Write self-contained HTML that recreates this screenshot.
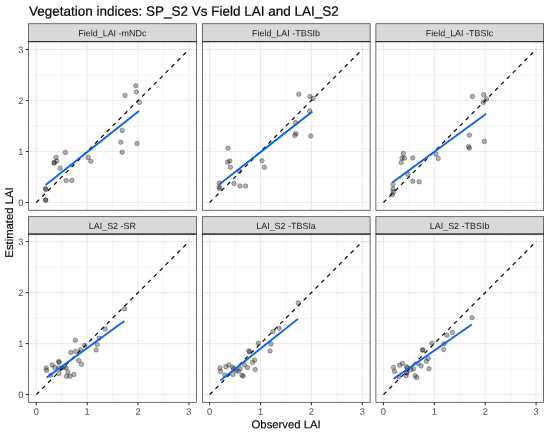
<!DOCTYPE html><html><head><meta charset="utf-8"><title>Vegetation indices</title><style>html,body{margin:0;padding:0;background:#fff}text{font-family:"Liberation Sans",Arial,sans-serif}</style></head><body><svg width="550" height="433" viewBox="0 0 550 433" style="display:block">
<rect width="550" height="433" fill="#fff"/>
<text transform="translate(28.9 15.7) rotate(0.03)" font-size="13.5" fill="#000" stroke="#000" stroke-width="0.2">Vegetation indices: SP_S2 Vs Field LAI and LAI_S2</text>
<g><rect x="28.6" y="41.6" width="167.90" height="168.65" fill="#fff"/><line x1="61.74" x2="61.74" y1="41.6" y2="210.25" stroke="#ebebeb" stroke-width="0.55"/><line y1="177.00" y2="177.00" x1="28.6" x2="196.5" stroke="#ebebeb" stroke-width="0.55"/><line x1="112.62" x2="112.62" y1="41.6" y2="210.25" stroke="#ebebeb" stroke-width="0.55"/><line y1="126.00" y2="126.00" x1="28.6" x2="196.5" stroke="#ebebeb" stroke-width="0.55"/><line x1="163.50" x2="163.50" y1="41.6" y2="210.25" stroke="#ebebeb" stroke-width="0.55"/><line y1="75.00" y2="75.00" x1="28.6" x2="196.5" stroke="#ebebeb" stroke-width="0.55"/><line x1="36.30" x2="36.30" y1="41.6" y2="210.25" stroke="#ebebeb" stroke-width="1.1"/><line y1="202.50" y2="202.50" x1="28.6" x2="196.5" stroke="#ebebeb" stroke-width="1.1"/><line x1="87.18" x2="87.18" y1="41.6" y2="210.25" stroke="#ebebeb" stroke-width="1.1"/><line y1="151.50" y2="151.50" x1="28.6" x2="196.5" stroke="#ebebeb" stroke-width="1.1"/><line x1="138.06" x2="138.06" y1="41.6" y2="210.25" stroke="#ebebeb" stroke-width="1.1"/><line y1="100.50" y2="100.50" x1="28.6" x2="196.5" stroke="#ebebeb" stroke-width="1.1"/><line x1="188.94" x2="188.94" y1="41.6" y2="210.25" stroke="#ebebeb" stroke-width="1.1"/><line y1="49.50" y2="49.50" x1="28.6" x2="196.5" stroke="#ebebeb" stroke-width="1.1"/><circle cx="45.6" cy="200.0" r="2.25" fill="#000" fill-opacity="0.3" stroke="#000" stroke-opacity="0.3" stroke-width="1"/><circle cx="45.7" cy="200.1" r="2.25" fill="#000" fill-opacity="0.3" stroke="#000" stroke-opacity="0.3" stroke-width="1"/><circle cx="45.4" cy="188.6" r="2.25" fill="#000" fill-opacity="0.3" stroke="#000" stroke-opacity="0.3" stroke-width="1"/><circle cx="45.9" cy="189.6" r="2.25" fill="#000" fill-opacity="0.3" stroke="#000" stroke-opacity="0.3" stroke-width="1"/><circle cx="66.2" cy="180.6" r="2.25" fill="#000" fill-opacity="0.3" stroke="#000" stroke-opacity="0.3" stroke-width="1"/><circle cx="71.8" cy="180.4" r="2.25" fill="#000" fill-opacity="0.3" stroke="#000" stroke-opacity="0.3" stroke-width="1"/><circle cx="60.2" cy="168.2" r="2.25" fill="#000" fill-opacity="0.3" stroke="#000" stroke-opacity="0.3" stroke-width="1"/><circle cx="54.0" cy="163.0" r="2.25" fill="#000" fill-opacity="0.3" stroke="#000" stroke-opacity="0.3" stroke-width="1"/><circle cx="54.4" cy="162.6" r="2.25" fill="#000" fill-opacity="0.3" stroke="#000" stroke-opacity="0.3" stroke-width="1"/><circle cx="56.8" cy="161.0" r="2.25" fill="#000" fill-opacity="0.3" stroke="#000" stroke-opacity="0.3" stroke-width="1"/><circle cx="56.0" cy="157.4" r="2.25" fill="#000" fill-opacity="0.3" stroke="#000" stroke-opacity="0.3" stroke-width="1"/><circle cx="65.4" cy="152.4" r="2.25" fill="#000" fill-opacity="0.3" stroke="#000" stroke-opacity="0.3" stroke-width="1"/><circle cx="88.2" cy="157.4" r="2.25" fill="#000" fill-opacity="0.3" stroke="#000" stroke-opacity="0.3" stroke-width="1"/><circle cx="90.8" cy="161.2" r="2.25" fill="#000" fill-opacity="0.3" stroke="#000" stroke-opacity="0.3" stroke-width="1"/><circle cx="135.8" cy="85.8" r="2.25" fill="#000" fill-opacity="0.3" stroke="#000" stroke-opacity="0.3" stroke-width="1"/><circle cx="136.4" cy="92.0" r="2.25" fill="#000" fill-opacity="0.3" stroke="#000" stroke-opacity="0.3" stroke-width="1"/><circle cx="125.0" cy="95.4" r="2.25" fill="#000" fill-opacity="0.3" stroke="#000" stroke-opacity="0.3" stroke-width="1"/><circle cx="139.4" cy="102.4" r="2.25" fill="#000" fill-opacity="0.3" stroke="#000" stroke-opacity="0.3" stroke-width="1"/><circle cx="122.2" cy="130.4" r="2.25" fill="#000" fill-opacity="0.3" stroke="#000" stroke-opacity="0.3" stroke-width="1"/><circle cx="120.8" cy="142.2" r="2.25" fill="#000" fill-opacity="0.3" stroke="#000" stroke-opacity="0.3" stroke-width="1"/><circle cx="137.0" cy="143.6" r="2.25" fill="#000" fill-opacity="0.3" stroke="#000" stroke-opacity="0.3" stroke-width="1"/><circle cx="122.2" cy="152.2" r="2.25" fill="#000" fill-opacity="0.3" stroke="#000" stroke-opacity="0.3" stroke-width="1"/><line x1="36.30" y1="202.50" x2="189.24" y2="49.20" stroke="#000" stroke-width="1.2" stroke-dasharray="4.05 4.27"/><line x1="45.6" y1="184.9" x2="139" y2="111" stroke="#0a60f5" stroke-width="1.85"/><rect x="28.6" y="41.6" width="167.90" height="168.65" fill="none" stroke="#333" stroke-width="0.7"/><rect x="28.6" y="23.75" width="167.90" height="17.85" fill="#d9d9d9" stroke="#333" stroke-width="0.7"/><line x1="28.25" x2="196.85" y1="41.70" y2="41.70" stroke="#333" stroke-width="1.2"/><text transform="translate(112.35 36.20) rotate(0.03)" text-anchor="middle" font-size="8.95" fill="#1a1a1a">Field_LAI -mNDc</text><line x1="25.70" x2="28.6" y1="202.50" y2="202.50" stroke="#333" stroke-width="1.1"/><text transform="translate(23.40 206.00) rotate(0.03)" text-anchor="end" font-size="9.3" fill="#4d4d4d">0</text><line x1="25.70" x2="28.6" y1="151.50" y2="151.50" stroke="#333" stroke-width="1.1"/><text transform="translate(23.40 155.00) rotate(0.03)" text-anchor="end" font-size="9.3" fill="#4d4d4d">1</text><line x1="25.70" x2="28.6" y1="100.50" y2="100.50" stroke="#333" stroke-width="1.1"/><text transform="translate(23.40 104.00) rotate(0.03)" text-anchor="end" font-size="9.3" fill="#4d4d4d">2</text><line x1="25.70" x2="28.6" y1="49.50" y2="49.50" stroke="#333" stroke-width="1.1"/><text transform="translate(23.40 53.00) rotate(0.03)" text-anchor="end" font-size="9.3" fill="#4d4d4d">3</text></g>
<g><rect x="202.35" y="41.6" width="167.75" height="168.65" fill="#fff"/><line x1="235.09" x2="235.09" y1="41.6" y2="210.25" stroke="#ebebeb" stroke-width="0.55"/><line y1="177.00" y2="177.00" x1="202.35" x2="370.1" stroke="#ebebeb" stroke-width="0.55"/><line x1="285.97" x2="285.97" y1="41.6" y2="210.25" stroke="#ebebeb" stroke-width="0.55"/><line y1="126.00" y2="126.00" x1="202.35" x2="370.1" stroke="#ebebeb" stroke-width="0.55"/><line x1="336.85" x2="336.85" y1="41.6" y2="210.25" stroke="#ebebeb" stroke-width="0.55"/><line y1="75.00" y2="75.00" x1="202.35" x2="370.1" stroke="#ebebeb" stroke-width="0.55"/><line x1="209.65" x2="209.65" y1="41.6" y2="210.25" stroke="#ebebeb" stroke-width="1.1"/><line y1="202.50" y2="202.50" x1="202.35" x2="370.1" stroke="#ebebeb" stroke-width="1.1"/><line x1="260.53" x2="260.53" y1="41.6" y2="210.25" stroke="#ebebeb" stroke-width="1.1"/><line y1="151.50" y2="151.50" x1="202.35" x2="370.1" stroke="#ebebeb" stroke-width="1.1"/><line x1="311.41" x2="311.41" y1="41.6" y2="210.25" stroke="#ebebeb" stroke-width="1.1"/><line y1="100.50" y2="100.50" x1="202.35" x2="370.1" stroke="#ebebeb" stroke-width="1.1"/><line x1="362.29" x2="362.29" y1="41.6" y2="210.25" stroke="#ebebeb" stroke-width="1.1"/><line y1="49.50" y2="49.50" x1="202.35" x2="370.1" stroke="#ebebeb" stroke-width="1.1"/><circle cx="219.2" cy="183.0" r="2.25" fill="#000" fill-opacity="0.3" stroke="#000" stroke-opacity="0.3" stroke-width="1"/><circle cx="219.2" cy="187.0" r="2.25" fill="#000" fill-opacity="0.3" stroke="#000" stroke-opacity="0.3" stroke-width="1"/><circle cx="219.6" cy="188.6" r="2.25" fill="#000" fill-opacity="0.3" stroke="#000" stroke-opacity="0.3" stroke-width="1"/><circle cx="234.0" cy="183.4" r="2.25" fill="#000" fill-opacity="0.3" stroke="#000" stroke-opacity="0.3" stroke-width="1"/><circle cx="240.0" cy="186.0" r="2.25" fill="#000" fill-opacity="0.3" stroke="#000" stroke-opacity="0.3" stroke-width="1"/><circle cx="245.6" cy="186.0" r="2.25" fill="#000" fill-opacity="0.3" stroke="#000" stroke-opacity="0.3" stroke-width="1"/><circle cx="239.4" cy="171.4" r="2.25" fill="#000" fill-opacity="0.3" stroke="#000" stroke-opacity="0.3" stroke-width="1"/><circle cx="230.4" cy="167.2" r="2.25" fill="#000" fill-opacity="0.3" stroke="#000" stroke-opacity="0.3" stroke-width="1"/><circle cx="227.6" cy="162.2" r="2.25" fill="#000" fill-opacity="0.3" stroke="#000" stroke-opacity="0.3" stroke-width="1"/><circle cx="229.8" cy="161.0" r="2.25" fill="#000" fill-opacity="0.3" stroke="#000" stroke-opacity="0.3" stroke-width="1"/><circle cx="228.0" cy="148.2" r="2.25" fill="#000" fill-opacity="0.3" stroke="#000" stroke-opacity="0.3" stroke-width="1"/><circle cx="262.0" cy="160.8" r="2.25" fill="#000" fill-opacity="0.3" stroke="#000" stroke-opacity="0.3" stroke-width="1"/><circle cx="264.4" cy="167.2" r="2.25" fill="#000" fill-opacity="0.3" stroke="#000" stroke-opacity="0.3" stroke-width="1"/><circle cx="298.8" cy="94.2" r="2.25" fill="#000" fill-opacity="0.3" stroke="#000" stroke-opacity="0.3" stroke-width="1"/><circle cx="310.0" cy="96.6" r="2.25" fill="#000" fill-opacity="0.3" stroke="#000" stroke-opacity="0.3" stroke-width="1"/><circle cx="313.0" cy="98.4" r="2.25" fill="#000" fill-opacity="0.3" stroke="#000" stroke-opacity="0.3" stroke-width="1"/><circle cx="309.6" cy="111.0" r="2.25" fill="#000" fill-opacity="0.3" stroke="#000" stroke-opacity="0.3" stroke-width="1"/><circle cx="295.6" cy="122.6" r="2.25" fill="#000" fill-opacity="0.3" stroke="#000" stroke-opacity="0.3" stroke-width="1"/><circle cx="295.8" cy="133.6" r="2.25" fill="#000" fill-opacity="0.3" stroke="#000" stroke-opacity="0.3" stroke-width="1"/><circle cx="294.8" cy="135.4" r="2.25" fill="#000" fill-opacity="0.3" stroke="#000" stroke-opacity="0.3" stroke-width="1"/><circle cx="310.8" cy="136.0" r="2.25" fill="#000" fill-opacity="0.3" stroke="#000" stroke-opacity="0.3" stroke-width="1"/><line x1="209.65" y1="202.50" x2="362.59" y2="49.20" stroke="#000" stroke-width="1.2" stroke-dasharray="4.05 4.27"/><line x1="219.2" y1="184.4" x2="312.4" y2="111.6" stroke="#0a60f5" stroke-width="1.85"/><rect x="202.35" y="41.6" width="167.75" height="168.65" fill="none" stroke="#333" stroke-width="0.7"/><rect x="202.35" y="23.75" width="167.75" height="17.85" fill="#d9d9d9" stroke="#333" stroke-width="0.7"/><line x1="202.00" x2="370.45" y1="41.70" y2="41.70" stroke="#333" stroke-width="1.2"/><text transform="translate(286.03 36.20) rotate(0.03)" text-anchor="middle" font-size="8.95" fill="#1a1a1a">Field_LAI -TBSIb</text></g>
<g><rect x="375.9" y="41.6" width="167.75" height="168.65" fill="#fff"/><line x1="408.89" x2="408.89" y1="41.6" y2="210.25" stroke="#ebebeb" stroke-width="0.55"/><line y1="177.00" y2="177.00" x1="375.9" x2="543.65" stroke="#ebebeb" stroke-width="0.55"/><line x1="459.77" x2="459.77" y1="41.6" y2="210.25" stroke="#ebebeb" stroke-width="0.55"/><line y1="126.00" y2="126.00" x1="375.9" x2="543.65" stroke="#ebebeb" stroke-width="0.55"/><line x1="510.65" x2="510.65" y1="41.6" y2="210.25" stroke="#ebebeb" stroke-width="0.55"/><line y1="75.00" y2="75.00" x1="375.9" x2="543.65" stroke="#ebebeb" stroke-width="0.55"/><line x1="383.45" x2="383.45" y1="41.6" y2="210.25" stroke="#ebebeb" stroke-width="1.1"/><line y1="202.50" y2="202.50" x1="375.9" x2="543.65" stroke="#ebebeb" stroke-width="1.1"/><line x1="434.33" x2="434.33" y1="41.6" y2="210.25" stroke="#ebebeb" stroke-width="1.1"/><line y1="151.50" y2="151.50" x1="375.9" x2="543.65" stroke="#ebebeb" stroke-width="1.1"/><line x1="485.21" x2="485.21" y1="41.6" y2="210.25" stroke="#ebebeb" stroke-width="1.1"/><line y1="100.50" y2="100.50" x1="375.9" x2="543.65" stroke="#ebebeb" stroke-width="1.1"/><line x1="536.09" x2="536.09" y1="41.6" y2="210.25" stroke="#ebebeb" stroke-width="1.1"/><line y1="49.50" y2="49.50" x1="375.9" x2="543.65" stroke="#ebebeb" stroke-width="1.1"/><circle cx="393.0" cy="184.4" r="2.25" fill="#000" fill-opacity="0.3" stroke="#000" stroke-opacity="0.3" stroke-width="1"/><circle cx="393.0" cy="189.0" r="2.25" fill="#000" fill-opacity="0.3" stroke="#000" stroke-opacity="0.3" stroke-width="1"/><circle cx="393.4" cy="192.0" r="2.25" fill="#000" fill-opacity="0.3" stroke="#000" stroke-opacity="0.3" stroke-width="1"/><circle cx="392.4" cy="194.6" r="2.25" fill="#000" fill-opacity="0.3" stroke="#000" stroke-opacity="0.3" stroke-width="1"/><circle cx="412.8" cy="181.2" r="2.25" fill="#000" fill-opacity="0.3" stroke="#000" stroke-opacity="0.3" stroke-width="1"/><circle cx="419.2" cy="181.8" r="2.25" fill="#000" fill-opacity="0.3" stroke="#000" stroke-opacity="0.3" stroke-width="1"/><circle cx="408.0" cy="174.2" r="2.25" fill="#000" fill-opacity="0.3" stroke="#000" stroke-opacity="0.3" stroke-width="1"/><circle cx="401.2" cy="162.6" r="2.25" fill="#000" fill-opacity="0.3" stroke="#000" stroke-opacity="0.3" stroke-width="1"/><circle cx="402.0" cy="158.0" r="2.25" fill="#000" fill-opacity="0.3" stroke="#000" stroke-opacity="0.3" stroke-width="1"/><circle cx="404.4" cy="158.2" r="2.25" fill="#000" fill-opacity="0.3" stroke="#000" stroke-opacity="0.3" stroke-width="1"/><circle cx="403.4" cy="153.6" r="2.25" fill="#000" fill-opacity="0.3" stroke="#000" stroke-opacity="0.3" stroke-width="1"/><circle cx="412.8" cy="158.0" r="2.25" fill="#000" fill-opacity="0.3" stroke="#000" stroke-opacity="0.3" stroke-width="1"/><circle cx="436.0" cy="154.0" r="2.25" fill="#000" fill-opacity="0.3" stroke="#000" stroke-opacity="0.3" stroke-width="1"/><circle cx="438.2" cy="158.4" r="2.25" fill="#000" fill-opacity="0.3" stroke="#000" stroke-opacity="0.3" stroke-width="1"/><circle cx="472.4" cy="96.4" r="2.25" fill="#000" fill-opacity="0.3" stroke="#000" stroke-opacity="0.3" stroke-width="1"/><circle cx="483.6" cy="94.8" r="2.25" fill="#000" fill-opacity="0.3" stroke="#000" stroke-opacity="0.3" stroke-width="1"/><circle cx="486.6" cy="99.0" r="2.25" fill="#000" fill-opacity="0.3" stroke="#000" stroke-opacity="0.3" stroke-width="1"/><circle cx="483.2" cy="102.2" r="2.25" fill="#000" fill-opacity="0.3" stroke="#000" stroke-opacity="0.3" stroke-width="1"/><circle cx="469.4" cy="135.0" r="2.25" fill="#000" fill-opacity="0.3" stroke="#000" stroke-opacity="0.3" stroke-width="1"/><circle cx="484.4" cy="141.4" r="2.25" fill="#000" fill-opacity="0.3" stroke="#000" stroke-opacity="0.3" stroke-width="1"/><circle cx="468.6" cy="146.6" r="2.25" fill="#000" fill-opacity="0.3" stroke="#000" stroke-opacity="0.3" stroke-width="1"/><circle cx="469.4" cy="148.2" r="2.25" fill="#000" fill-opacity="0.3" stroke="#000" stroke-opacity="0.3" stroke-width="1"/><line x1="383.45" y1="202.50" x2="536.39" y2="49.20" stroke="#000" stroke-width="1.2" stroke-dasharray="4.05 4.27"/><line x1="392.4" y1="182.6" x2="486.2" y2="113.8" stroke="#0a60f5" stroke-width="1.85"/><rect x="375.9" y="41.6" width="167.75" height="168.65" fill="none" stroke="#333" stroke-width="0.7"/><rect x="375.9" y="23.75" width="167.75" height="17.85" fill="#d9d9d9" stroke="#333" stroke-width="0.7"/><line x1="375.55" x2="544.00" y1="41.70" y2="41.70" stroke="#333" stroke-width="1.2"/><text transform="translate(459.57 36.20) rotate(0.03)" text-anchor="middle" font-size="8.95" fill="#1a1a1a">Field_LAI -TBSIc</text></g>
<g><rect x="28.6" y="234.0" width="167.90" height="168.30" fill="#fff"/><line x1="61.74" x2="61.74" y1="234.0" y2="402.3" stroke="#ebebeb" stroke-width="0.55"/><line y1="369.10" y2="369.10" x1="28.6" x2="196.5" stroke="#ebebeb" stroke-width="0.55"/><line x1="112.62" x2="112.62" y1="234.0" y2="402.3" stroke="#ebebeb" stroke-width="0.55"/><line y1="318.10" y2="318.10" x1="28.6" x2="196.5" stroke="#ebebeb" stroke-width="0.55"/><line x1="163.50" x2="163.50" y1="234.0" y2="402.3" stroke="#ebebeb" stroke-width="0.55"/><line y1="267.10" y2="267.10" x1="28.6" x2="196.5" stroke="#ebebeb" stroke-width="0.55"/><line x1="36.30" x2="36.30" y1="234.0" y2="402.3" stroke="#ebebeb" stroke-width="1.1"/><line y1="394.60" y2="394.60" x1="28.6" x2="196.5" stroke="#ebebeb" stroke-width="1.1"/><line x1="87.18" x2="87.18" y1="234.0" y2="402.3" stroke="#ebebeb" stroke-width="1.1"/><line y1="343.60" y2="343.60" x1="28.6" x2="196.5" stroke="#ebebeb" stroke-width="1.1"/><line x1="138.06" x2="138.06" y1="234.0" y2="402.3" stroke="#ebebeb" stroke-width="1.1"/><line y1="292.60" y2="292.60" x1="28.6" x2="196.5" stroke="#ebebeb" stroke-width="1.1"/><line x1="188.94" x2="188.94" y1="234.0" y2="402.3" stroke="#ebebeb" stroke-width="1.1"/><line y1="241.60" y2="241.60" x1="28.6" x2="196.5" stroke="#ebebeb" stroke-width="1.1"/><circle cx="75.4" cy="340.2" r="2.25" fill="#000" fill-opacity="0.3" stroke="#000" stroke-opacity="0.3" stroke-width="1"/><circle cx="105.2" cy="329.1" r="2.25" fill="#000" fill-opacity="0.3" stroke="#000" stroke-opacity="0.3" stroke-width="1"/><circle cx="99.1" cy="338.1" r="2.25" fill="#000" fill-opacity="0.3" stroke="#000" stroke-opacity="0.3" stroke-width="1"/><circle cx="97.2" cy="344.5" r="2.25" fill="#000" fill-opacity="0.3" stroke="#000" stroke-opacity="0.3" stroke-width="1"/><circle cx="96.1" cy="349.9" r="2.25" fill="#000" fill-opacity="0.3" stroke="#000" stroke-opacity="0.3" stroke-width="1"/><circle cx="84.6" cy="345.3" r="2.25" fill="#000" fill-opacity="0.3" stroke="#000" stroke-opacity="0.3" stroke-width="1"/><circle cx="80.6" cy="349.8" r="2.25" fill="#000" fill-opacity="0.3" stroke="#000" stroke-opacity="0.3" stroke-width="1"/><circle cx="75.6" cy="351.5" r="2.25" fill="#000" fill-opacity="0.3" stroke="#000" stroke-opacity="0.3" stroke-width="1"/><circle cx="70.8" cy="352.5" r="2.25" fill="#000" fill-opacity="0.3" stroke="#000" stroke-opacity="0.3" stroke-width="1"/><circle cx="78.6" cy="360.6" r="2.25" fill="#000" fill-opacity="0.3" stroke="#000" stroke-opacity="0.3" stroke-width="1"/><circle cx="81.4" cy="364.2" r="2.25" fill="#000" fill-opacity="0.3" stroke="#000" stroke-opacity="0.3" stroke-width="1"/><circle cx="58.8" cy="361.4" r="2.25" fill="#000" fill-opacity="0.3" stroke="#000" stroke-opacity="0.3" stroke-width="1"/><circle cx="59.1" cy="362.4" r="2.25" fill="#000" fill-opacity="0.3" stroke="#000" stroke-opacity="0.3" stroke-width="1"/><circle cx="52.2" cy="365.0" r="2.25" fill="#000" fill-opacity="0.3" stroke="#000" stroke-opacity="0.3" stroke-width="1"/><circle cx="54.8" cy="367.5" r="2.25" fill="#000" fill-opacity="0.3" stroke="#000" stroke-opacity="0.3" stroke-width="1"/><circle cx="46.2" cy="368.0" r="2.25" fill="#000" fill-opacity="0.3" stroke="#000" stroke-opacity="0.3" stroke-width="1"/><circle cx="46.6" cy="370.4" r="2.25" fill="#000" fill-opacity="0.3" stroke="#000" stroke-opacity="0.3" stroke-width="1"/><circle cx="58.8" cy="368.0" r="2.25" fill="#000" fill-opacity="0.3" stroke="#000" stroke-opacity="0.3" stroke-width="1"/><circle cx="62.0" cy="368.0" r="2.25" fill="#000" fill-opacity="0.3" stroke="#000" stroke-opacity="0.3" stroke-width="1"/><circle cx="66.0" cy="368.0" r="2.25" fill="#000" fill-opacity="0.3" stroke="#000" stroke-opacity="0.3" stroke-width="1"/><circle cx="67.8" cy="372.0" r="2.25" fill="#000" fill-opacity="0.3" stroke="#000" stroke-opacity="0.3" stroke-width="1"/><circle cx="58.8" cy="373.6" r="2.25" fill="#000" fill-opacity="0.3" stroke="#000" stroke-opacity="0.3" stroke-width="1"/><circle cx="50.8" cy="375.2" r="2.25" fill="#000" fill-opacity="0.3" stroke="#000" stroke-opacity="0.3" stroke-width="1"/><circle cx="66.5" cy="376.3" r="2.25" fill="#000" fill-opacity="0.3" stroke="#000" stroke-opacity="0.3" stroke-width="1"/><circle cx="70.0" cy="376.3" r="2.25" fill="#000" fill-opacity="0.3" stroke="#000" stroke-opacity="0.3" stroke-width="1"/><circle cx="74.0" cy="374.4" r="2.25" fill="#000" fill-opacity="0.3" stroke="#000" stroke-opacity="0.3" stroke-width="1"/><circle cx="64.4" cy="366.4" r="2.25" fill="#000" fill-opacity="0.3" stroke="#000" stroke-opacity="0.3" stroke-width="1"/><circle cx="124.6" cy="308.7" r="2.25" fill="#000" fill-opacity="0.3" stroke="#000" stroke-opacity="0.3" stroke-width="1"/><line x1="36.30" y1="394.60" x2="189.24" y2="241.30" stroke="#000" stroke-width="1.2" stroke-dasharray="4.05 4.27"/><line x1="46.7" y1="377.5" x2="124.3" y2="321" stroke="#0a60f5" stroke-width="1.85"/><rect x="28.6" y="234.0" width="167.90" height="168.30" fill="none" stroke="#333" stroke-width="0.7"/><rect x="28.6" y="216.7" width="167.90" height="17.30" fill="#d9d9d9" stroke="#333" stroke-width="0.7"/><line x1="28.25" x2="196.85" y1="234.10" y2="234.10" stroke="#333" stroke-width="1.2"/><text transform="translate(112.35 228.90) rotate(0.03)" text-anchor="middle" font-size="8.95" fill="#1a1a1a">LAI_S2 -SR</text><line x1="25.70" x2="28.6" y1="394.60" y2="394.60" stroke="#333" stroke-width="1.1"/><text transform="translate(23.40 398.10) rotate(0.03)" text-anchor="end" font-size="9.3" fill="#4d4d4d">0</text><line x1="25.70" x2="28.6" y1="343.60" y2="343.60" stroke="#333" stroke-width="1.1"/><text transform="translate(23.40 347.10) rotate(0.03)" text-anchor="end" font-size="9.3" fill="#4d4d4d">1</text><line x1="25.70" x2="28.6" y1="292.60" y2="292.60" stroke="#333" stroke-width="1.1"/><text transform="translate(23.40 296.10) rotate(0.03)" text-anchor="end" font-size="9.3" fill="#4d4d4d">2</text><line x1="25.70" x2="28.6" y1="241.60" y2="241.60" stroke="#333" stroke-width="1.1"/><text transform="translate(23.40 245.10) rotate(0.03)" text-anchor="end" font-size="9.3" fill="#4d4d4d">3</text><line y1="402.3" y2="405.20" x1="36.30" x2="36.30" stroke="#333" stroke-width="1.1"/><text transform="translate(36.30 414.75) rotate(0.03)" text-anchor="middle" font-size="9.3" fill="#4d4d4d">0</text><line y1="402.3" y2="405.20" x1="87.18" x2="87.18" stroke="#333" stroke-width="1.1"/><text transform="translate(87.18 414.75) rotate(0.03)" text-anchor="middle" font-size="9.3" fill="#4d4d4d">1</text><line y1="402.3" y2="405.20" x1="138.06" x2="138.06" stroke="#333" stroke-width="1.1"/><text transform="translate(138.06 414.75) rotate(0.03)" text-anchor="middle" font-size="9.3" fill="#4d4d4d">2</text><line y1="402.3" y2="405.20" x1="188.94" x2="188.94" stroke="#333" stroke-width="1.1"/><text transform="translate(188.94 414.75) rotate(0.03)" text-anchor="middle" font-size="9.3" fill="#4d4d4d">3</text></g>
<g><rect x="202.35" y="234.0" width="167.75" height="168.30" fill="#fff"/><line x1="235.09" x2="235.09" y1="234.0" y2="402.3" stroke="#ebebeb" stroke-width="0.55"/><line y1="369.10" y2="369.10" x1="202.35" x2="370.1" stroke="#ebebeb" stroke-width="0.55"/><line x1="285.97" x2="285.97" y1="234.0" y2="402.3" stroke="#ebebeb" stroke-width="0.55"/><line y1="318.10" y2="318.10" x1="202.35" x2="370.1" stroke="#ebebeb" stroke-width="0.55"/><line x1="336.85" x2="336.85" y1="234.0" y2="402.3" stroke="#ebebeb" stroke-width="0.55"/><line y1="267.10" y2="267.10" x1="202.35" x2="370.1" stroke="#ebebeb" stroke-width="0.55"/><line x1="209.65" x2="209.65" y1="234.0" y2="402.3" stroke="#ebebeb" stroke-width="1.1"/><line y1="394.60" y2="394.60" x1="202.35" x2="370.1" stroke="#ebebeb" stroke-width="1.1"/><line x1="260.53" x2="260.53" y1="234.0" y2="402.3" stroke="#ebebeb" stroke-width="1.1"/><line y1="343.60" y2="343.60" x1="202.35" x2="370.1" stroke="#ebebeb" stroke-width="1.1"/><line x1="311.41" x2="311.41" y1="234.0" y2="402.3" stroke="#ebebeb" stroke-width="1.1"/><line y1="292.60" y2="292.60" x1="202.35" x2="370.1" stroke="#ebebeb" stroke-width="1.1"/><line x1="362.29" x2="362.29" y1="234.0" y2="402.3" stroke="#ebebeb" stroke-width="1.1"/><line y1="241.60" y2="241.60" x1="202.35" x2="370.1" stroke="#ebebeb" stroke-width="1.1"/><circle cx="279.2" cy="328.3" r="2.25" fill="#000" fill-opacity="0.3" stroke="#000" stroke-opacity="0.3" stroke-width="1"/><circle cx="273.1" cy="331.5" r="2.25" fill="#000" fill-opacity="0.3" stroke="#000" stroke-opacity="0.3" stroke-width="1"/><circle cx="270.9" cy="344.0" r="2.25" fill="#000" fill-opacity="0.3" stroke="#000" stroke-opacity="0.3" stroke-width="1"/><circle cx="270.1" cy="350.9" r="2.25" fill="#000" fill-opacity="0.3" stroke="#000" stroke-opacity="0.3" stroke-width="1"/><circle cx="258.4" cy="343.2" r="2.25" fill="#000" fill-opacity="0.3" stroke="#000" stroke-opacity="0.3" stroke-width="1"/><circle cx="248.8" cy="350.9" r="2.25" fill="#000" fill-opacity="0.3" stroke="#000" stroke-opacity="0.3" stroke-width="1"/><circle cx="249.6" cy="351.7" r="2.25" fill="#000" fill-opacity="0.3" stroke="#000" stroke-opacity="0.3" stroke-width="1"/><circle cx="254.6" cy="360.0" r="2.25" fill="#000" fill-opacity="0.3" stroke="#000" stroke-opacity="0.3" stroke-width="1"/><circle cx="252.5" cy="362.6" r="2.25" fill="#000" fill-opacity="0.3" stroke="#000" stroke-opacity="0.3" stroke-width="1"/><circle cx="255.2" cy="369.6" r="2.25" fill="#000" fill-opacity="0.3" stroke="#000" stroke-opacity="0.3" stroke-width="1"/><circle cx="247.5" cy="367.5" r="2.25" fill="#000" fill-opacity="0.3" stroke="#000" stroke-opacity="0.3" stroke-width="1"/><circle cx="244.3" cy="364.8" r="2.25" fill="#000" fill-opacity="0.3" stroke="#000" stroke-opacity="0.3" stroke-width="1"/><circle cx="228.8" cy="365.1" r="2.25" fill="#000" fill-opacity="0.3" stroke="#000" stroke-opacity="0.3" stroke-width="1"/><circle cx="225.9" cy="366.7" r="2.25" fill="#000" fill-opacity="0.3" stroke="#000" stroke-opacity="0.3" stroke-width="1"/><circle cx="220.0" cy="368.0" r="2.25" fill="#000" fill-opacity="0.3" stroke="#000" stroke-opacity="0.3" stroke-width="1"/><circle cx="220.6" cy="371.5" r="2.25" fill="#000" fill-opacity="0.3" stroke="#000" stroke-opacity="0.3" stroke-width="1"/><circle cx="232.8" cy="367.2" r="2.25" fill="#000" fill-opacity="0.3" stroke="#000" stroke-opacity="0.3" stroke-width="1"/><circle cx="233.6" cy="368.8" r="2.25" fill="#000" fill-opacity="0.3" stroke="#000" stroke-opacity="0.3" stroke-width="1"/><circle cx="240.0" cy="368.8" r="2.25" fill="#000" fill-opacity="0.3" stroke="#000" stroke-opacity="0.3" stroke-width="1"/><circle cx="238.4" cy="371.2" r="2.25" fill="#000" fill-opacity="0.3" stroke="#000" stroke-opacity="0.3" stroke-width="1"/><circle cx="232.8" cy="374.4" r="2.25" fill="#000" fill-opacity="0.3" stroke="#000" stroke-opacity="0.3" stroke-width="1"/><circle cx="224.8" cy="375.2" r="2.25" fill="#000" fill-opacity="0.3" stroke="#000" stroke-opacity="0.3" stroke-width="1"/><circle cx="241.9" cy="375.2" r="2.25" fill="#000" fill-opacity="0.3" stroke="#000" stroke-opacity="0.3" stroke-width="1"/><circle cx="243.2" cy="376.0" r="2.25" fill="#000" fill-opacity="0.3" stroke="#000" stroke-opacity="0.3" stroke-width="1"/><circle cx="236.0" cy="370.4" r="2.25" fill="#000" fill-opacity="0.3" stroke="#000" stroke-opacity="0.3" stroke-width="1"/><circle cx="298.3" cy="303.1" r="2.25" fill="#000" fill-opacity="0.3" stroke="#000" stroke-opacity="0.3" stroke-width="1"/><line x1="209.65" y1="394.60" x2="362.59" y2="241.30" stroke="#000" stroke-width="1.2" stroke-dasharray="4.05 4.27"/><line x1="220.2" y1="380.6" x2="298" y2="318.9" stroke="#0a60f5" stroke-width="1.85"/><rect x="202.35" y="234.0" width="167.75" height="168.30" fill="none" stroke="#333" stroke-width="0.7"/><rect x="202.35" y="216.7" width="167.75" height="17.30" fill="#d9d9d9" stroke="#333" stroke-width="0.7"/><line x1="202.00" x2="370.45" y1="234.10" y2="234.10" stroke="#333" stroke-width="1.2"/><text transform="translate(286.03 228.90) rotate(0.03)" text-anchor="middle" font-size="8.95" fill="#1a1a1a">LAI_S2 -TBSIa</text><line y1="402.3" y2="405.20" x1="209.65" x2="209.65" stroke="#333" stroke-width="1.1"/><text transform="translate(209.65 414.75) rotate(0.03)" text-anchor="middle" font-size="9.3" fill="#4d4d4d">0</text><line y1="402.3" y2="405.20" x1="260.53" x2="260.53" stroke="#333" stroke-width="1.1"/><text transform="translate(260.53 414.75) rotate(0.03)" text-anchor="middle" font-size="9.3" fill="#4d4d4d">1</text><line y1="402.3" y2="405.20" x1="311.41" x2="311.41" stroke="#333" stroke-width="1.1"/><text transform="translate(311.41 414.75) rotate(0.03)" text-anchor="middle" font-size="9.3" fill="#4d4d4d">2</text><line y1="402.3" y2="405.20" x1="362.29" x2="362.29" stroke="#333" stroke-width="1.1"/><text transform="translate(362.29 414.75) rotate(0.03)" text-anchor="middle" font-size="9.3" fill="#4d4d4d">3</text></g>
<g><rect x="375.9" y="234.0" width="167.75" height="168.30" fill="#fff"/><line x1="408.89" x2="408.89" y1="234.0" y2="402.3" stroke="#ebebeb" stroke-width="0.55"/><line y1="369.10" y2="369.10" x1="375.9" x2="543.65" stroke="#ebebeb" stroke-width="0.55"/><line x1="459.77" x2="459.77" y1="234.0" y2="402.3" stroke="#ebebeb" stroke-width="0.55"/><line y1="318.10" y2="318.10" x1="375.9" x2="543.65" stroke="#ebebeb" stroke-width="0.55"/><line x1="510.65" x2="510.65" y1="234.0" y2="402.3" stroke="#ebebeb" stroke-width="0.55"/><line y1="267.10" y2="267.10" x1="375.9" x2="543.65" stroke="#ebebeb" stroke-width="0.55"/><line x1="383.45" x2="383.45" y1="234.0" y2="402.3" stroke="#ebebeb" stroke-width="1.1"/><line y1="394.60" y2="394.60" x1="375.9" x2="543.65" stroke="#ebebeb" stroke-width="1.1"/><line x1="434.33" x2="434.33" y1="234.0" y2="402.3" stroke="#ebebeb" stroke-width="1.1"/><line y1="343.60" y2="343.60" x1="375.9" x2="543.65" stroke="#ebebeb" stroke-width="1.1"/><line x1="485.21" x2="485.21" y1="234.0" y2="402.3" stroke="#ebebeb" stroke-width="1.1"/><line y1="292.60" y2="292.60" x1="375.9" x2="543.65" stroke="#ebebeb" stroke-width="1.1"/><line x1="536.09" x2="536.09" y1="234.0" y2="402.3" stroke="#ebebeb" stroke-width="1.1"/><line y1="241.60" y2="241.60" x1="375.9" x2="543.65" stroke="#ebebeb" stroke-width="1.1"/><circle cx="452.4" cy="332.5" r="2.25" fill="#000" fill-opacity="0.3" stroke="#000" stroke-opacity="0.3" stroke-width="1"/><circle cx="446.8" cy="335.2" r="2.25" fill="#000" fill-opacity="0.3" stroke="#000" stroke-opacity="0.3" stroke-width="1"/><circle cx="444.1" cy="343.7" r="2.25" fill="#000" fill-opacity="0.3" stroke="#000" stroke-opacity="0.3" stroke-width="1"/><circle cx="443.6" cy="349.4" r="2.25" fill="#000" fill-opacity="0.3" stroke="#000" stroke-opacity="0.3" stroke-width="1"/><circle cx="432.1" cy="343.2" r="2.25" fill="#000" fill-opacity="0.3" stroke="#000" stroke-opacity="0.3" stroke-width="1"/><circle cx="422.8" cy="349.9" r="2.25" fill="#000" fill-opacity="0.3" stroke="#000" stroke-opacity="0.3" stroke-width="1"/><circle cx="422.6" cy="350.1" r="2.25" fill="#000" fill-opacity="0.3" stroke="#000" stroke-opacity="0.3" stroke-width="1"/><circle cx="428.2" cy="358.4" r="2.25" fill="#000" fill-opacity="0.3" stroke="#000" stroke-opacity="0.3" stroke-width="1"/><circle cx="426.3" cy="361.3" r="2.25" fill="#000" fill-opacity="0.3" stroke="#000" stroke-opacity="0.3" stroke-width="1"/><circle cx="428.9" cy="368.8" r="2.25" fill="#000" fill-opacity="0.3" stroke="#000" stroke-opacity="0.3" stroke-width="1"/><circle cx="421.2" cy="365.9" r="2.25" fill="#000" fill-opacity="0.3" stroke="#000" stroke-opacity="0.3" stroke-width="1"/><circle cx="418.0" cy="363.5" r="2.25" fill="#000" fill-opacity="0.3" stroke="#000" stroke-opacity="0.3" stroke-width="1"/><circle cx="402.5" cy="363.4" r="2.25" fill="#000" fill-opacity="0.3" stroke="#000" stroke-opacity="0.3" stroke-width="1"/><circle cx="399.6" cy="365.3" r="2.25" fill="#000" fill-opacity="0.3" stroke="#000" stroke-opacity="0.3" stroke-width="1"/><circle cx="393.5" cy="367.4" r="2.25" fill="#000" fill-opacity="0.3" stroke="#000" stroke-opacity="0.3" stroke-width="1"/><circle cx="394.5" cy="371.4" r="2.25" fill="#000" fill-opacity="0.3" stroke="#000" stroke-opacity="0.3" stroke-width="1"/><circle cx="406.5" cy="366.7" r="2.25" fill="#000" fill-opacity="0.3" stroke="#000" stroke-opacity="0.3" stroke-width="1"/><circle cx="407.6" cy="368.0" r="2.25" fill="#000" fill-opacity="0.3" stroke="#000" stroke-opacity="0.3" stroke-width="1"/><circle cx="413.5" cy="368.8" r="2.25" fill="#000" fill-opacity="0.3" stroke="#000" stroke-opacity="0.3" stroke-width="1"/><circle cx="410.8" cy="369.6" r="2.25" fill="#000" fill-opacity="0.3" stroke="#000" stroke-opacity="0.3" stroke-width="1"/><circle cx="406.8" cy="372.8" r="2.25" fill="#000" fill-opacity="0.3" stroke="#000" stroke-opacity="0.3" stroke-width="1"/><circle cx="406.0" cy="375.7" r="2.25" fill="#000" fill-opacity="0.3" stroke="#000" stroke-opacity="0.3" stroke-width="1"/><circle cx="398.8" cy="376.8" r="2.25" fill="#000" fill-opacity="0.3" stroke="#000" stroke-opacity="0.3" stroke-width="1"/><circle cx="415.1" cy="375.7" r="2.25" fill="#000" fill-opacity="0.3" stroke="#000" stroke-opacity="0.3" stroke-width="1"/><circle cx="416.7" cy="377.6" r="2.25" fill="#000" fill-opacity="0.3" stroke="#000" stroke-opacity="0.3" stroke-width="1"/><circle cx="472.0" cy="317.7" r="2.25" fill="#000" fill-opacity="0.3" stroke="#000" stroke-opacity="0.3" stroke-width="1"/><circle cx="406.6" cy="372.5" r="2.25" fill="#000" fill-opacity="0.3" stroke="#000" stroke-opacity="0.3" stroke-width="1"/><line x1="383.45" y1="394.60" x2="536.39" y2="241.30" stroke="#000" stroke-width="1.2" stroke-dasharray="4.05 4.27"/><line x1="393.65" y1="378.7" x2="471.8" y2="324.5" stroke="#0a60f5" stroke-width="1.85"/><rect x="375.9" y="234.0" width="167.75" height="168.30" fill="none" stroke="#333" stroke-width="0.7"/><rect x="375.9" y="216.7" width="167.75" height="17.30" fill="#d9d9d9" stroke="#333" stroke-width="0.7"/><line x1="375.55" x2="544.00" y1="234.10" y2="234.10" stroke="#333" stroke-width="1.2"/><text transform="translate(459.57 228.90) rotate(0.03)" text-anchor="middle" font-size="8.95" fill="#1a1a1a">LAI_S2 -TBSIb</text><line y1="402.3" y2="405.20" x1="383.45" x2="383.45" stroke="#333" stroke-width="1.1"/><text transform="translate(383.45 414.75) rotate(0.03)" text-anchor="middle" font-size="9.3" fill="#4d4d4d">0</text><line y1="402.3" y2="405.20" x1="434.33" x2="434.33" stroke="#333" stroke-width="1.1"/><text transform="translate(434.33 414.75) rotate(0.03)" text-anchor="middle" font-size="9.3" fill="#4d4d4d">1</text><line y1="402.3" y2="405.20" x1="485.21" x2="485.21" stroke="#333" stroke-width="1.1"/><text transform="translate(485.21 414.75) rotate(0.03)" text-anchor="middle" font-size="9.3" fill="#4d4d4d">2</text><line y1="402.3" y2="405.20" x1="536.09" x2="536.09" stroke="#333" stroke-width="1.1"/><text transform="translate(536.09 414.75) rotate(0.03)" text-anchor="middle" font-size="9.3" fill="#4d4d4d">3</text></g>
<text transform="translate(286.1 428.3) rotate(0.03)" text-anchor="middle" font-size="11.3" fill="#000" stroke="#000" stroke-width="0.15">Observed LAI</text>
<text transform="translate(13.0 222.5) rotate(-89.97)" text-anchor="middle" font-size="11.3" fill="#000" stroke="#000" stroke-width="0.15">Estimated LAI</text>
</svg></body></html>
